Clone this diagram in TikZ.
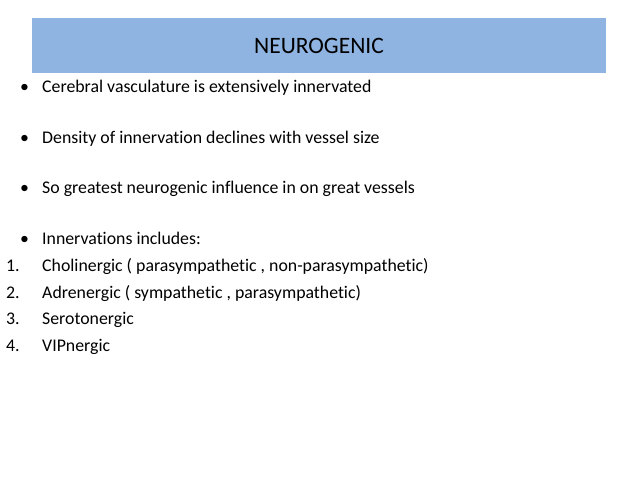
\documentclass[tikz,border=0pt]{standalone}
\usepackage{fontspec}
\setmainfont{Carlito}[Ligatures=NoCommon]
\definecolor{hdr}{RGB}{143,180,226}
\begin{document}
\begin{tikzpicture}[x=1pt,y=-1pt,
  txt/.style={anchor=base west,inner sep=0pt,font=\fontsize{17.8}{20}\selectfont},
  num/.style={anchor=base west,inner sep=0pt,font=\fontsize{17.8}{20}\selectfont}]
\useasboundingbox[fill=white] (0,0) rectangle (638,478);
\node[fill=hdr,minimum width=574pt,minimum height=55pt,inner sep=0pt,anchor=north west] (hdr) at (32,18) {};
\node[anchor=base,inner sep=0pt,font=\fontsize{23.5}{26}\selectfont] (title) at (319,54) {NEUROGENIC};
\node[num] (b1) at (20,93) {•};
\node[txt] (t1) at (42,93) {Cerebral vasculature is extensively innervated};
\node[num] (b2) at (20,144) {•};
\node[txt] (t2) at (42,144) {Density of innervation declines with vessel size};
\node[num] (b3) at (20,194) {•};
\node[txt] (t3) at (42,194) {So greatest neurogenic influence in on great vessels};
\node[num] (b4) at (20,245) {•};
\node[txt] (t4) at (42,245) {Innervations includes:};
\node[num] (n1) at (6,272) {1.};
\node[txt] (l1) at (42,272) {Cholinergic ( parasympathetic , non-parasympathetic)};
\node[num] (n2) at (6,299) {2.};
\node[txt] (l2) at (42,299) {Adrenergic ( sympathetic , parasympathetic)};
\node[num] (n3) at (6,325) {3.};
\node[txt] (l3) at (42,325) {Serotonergic};
\node[num] (n4) at (6,352) {4.};
\node[txt] (l4) at (42,352) {VIPnergic};
\end{tikzpicture}
\end{document}
